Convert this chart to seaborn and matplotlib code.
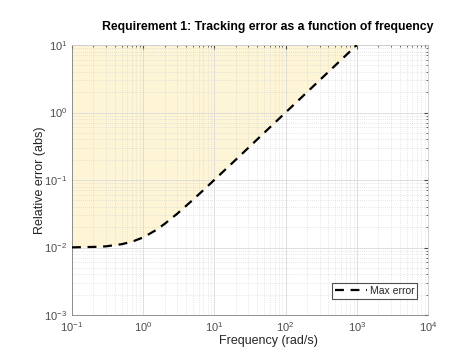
import numpy as np
import pandas as pd
import matplotlib
matplotlib.use("Agg")
import matplotlib.pyplot as plt
import seaborn as sns

# values
freq = [0.1, 0.2, 0.3, 0.5, 0.7, 1, 1.5, 2, 3, 5, 7, 10, 20, 50, 100, 200, 500, 1000]
max_err = [0.01005, 0.0102, 0.0104, 0.0112, 0.0122, 0.0141, 0.018, 0.0224, 0.0316,
           0.051, 0.0707, 0.1005, 0.2, 0.5, 1.0, 2.0, 5.0, 10.0]
x_ticks = [0.1, 1, 10, 100, 1000, 10000]
y_ticks = [0.001, 0.01, 0.1, 1, 10]

df = pd.DataFrame({"freq": freq, "err": max_err})

sns.set_style("white")
plt.rcParams['font.family'] = ['Liberation Sans', 'DejaVu Sans']

fig = plt.figure(figsize=(4.74, 3.55), dpi=100)
ax = fig.add_axes([72 / 474, 1 - 315 / 355, (428 - 72) / 474, (315 - 45) / 355])

# shaded region above the requirement line
ax.fill_between(df["freq"], df["err"], 10, color="#fdf5d6", linewidth=0, zorder=0)

sns.lineplot(data=df, x="freq", y="err", ax=ax, color="black", linestyle=(0, (4, 3)),
             linewidth=1.6, label="Max error", zorder=3)

ax.set_xscale("log")
ax.set_yscale("log")
ax.set_xlim(0.1, 1e4)
ax.set_ylim(1e-3, 10)
ax.set_xticks(x_ticks)
ax.set_yticks(y_ticks)

ax.grid(True, which="major", color="#d9d9d9", linewidth=0.6, linestyle="-")
ax.grid(True, which="minor", color="#d0d0d0", linewidth=0.5, linestyle=(0, (1, 2)))
ax.set_axisbelow(True)

for s in ax.spines.values():
    s.set_linewidth(0.6)
ax.spines["left"].set_color("#808080")
ax.spines["bottom"].set_color("#808080")
ax.spines["top"].set_color("#cccccc")
ax.spines["right"].set_color("#cccccc")

ax.tick_params(which="both", direction="in", colors="#4d4d4d", labelsize=8,
               top=True, right=True)
ax.tick_params(which="major", length=3)
ax.tick_params(which="minor", length=1.5)

ax.set_xlabel("Frequency (rad/s)", fontsize=9, color="#262626")
ax.set_ylabel("Relative error (abs)", fontsize=9, color="#262626")
ax.xaxis.set_label_coords((268 - 72) / 356, -0.075)
ax.yaxis.set_label_coords((46 - 72) / 356, 0.5)

fig.text(268 / 474, 1 - 27 / 355, "Requirement 1: Tracking error as a function of frequency",
         ha="center", va="center", fontsize=8.8, fontweight="bold", color="black")

leg = ax.legend(loc="lower right", fontsize=7.5, frameon=True, fancybox=False,
                handlelength=3, borderpad=0.3, handletextpad=0.3,
                bbox_to_anchor=(0.985, 0.04))
leg.get_frame().set_edgecolor("#262626")
leg.get_frame().set_linewidth(0.8)

fig.savefig("out.png", dpi=100)
